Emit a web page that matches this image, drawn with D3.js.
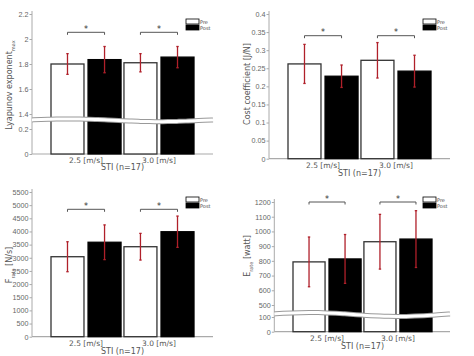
<!DOCTYPE html>
<html><head><meta charset="utf-8">
<script src="https://cdn.jsdelivr.net/npm/d3@7"></script>
<style>body{margin:0;background:#fff}svg{display:block;font-family:"DejaVu Sans",sans-serif}</style>
</head><body><svg id="c" width="474" height="356"></svg>
<script>
const categories = ["2.5 [m/s]", "3.0 [m/s]"];
const groups = ["Pre", "Post"];
const xTitle = "STI (n=17)";

const lyapPre = [1.80, 1.81], lyapPost = [1.835, 1.855];
const lyapPreSD = [0.083, 0.073], lyapPostSD = [0.105, 0.085];
const lyapTicks = [0, 0.2, 1.4, 1.6, 1.8, 2, 2.2];

const costPre = [0.262, 0.272], costPost = [0.228, 0.242];
const costPreSD = [0.054, 0.049], costPostSD = [0.031, 0.044];
const costTicks = [0, 0.05, 0.1, 0.15, 0.2, 0.25, 0.3, 0.35, 0.4];

const fPre = [3040, 3420], fPost = [3590, 3990];
const fPreSD = [570, 507], fPostSD = [660, 595];
const fTicks = [0, 500, 1000, 1500, 2000, 2500, 3000, 3500, 4000, 4500, 5000, 5500];

const ePre = [793, 930], ePost = [813, 948];
const ePreSD = [169, 186], ePostSD = [166, 193];
const eTicks = [0, 100, 500, 600, 700, 800, 900, 1000, 1100, 1200];

const svg = d3.select("#c");

function panel(o) {
  const g = svg.append("g");
  const y = d3.scaleLinear().domain(o.domain).range(o.range);
  const x0 = d3.scaleBand().domain(categories).range(o.barRange).paddingInner(0.04);
  const x1 = d3.scaleBand().domain(groups).range([0, x0.bandwidth()]).paddingInner(0.11);
  const base = y(0);
  // axes
  const ax = g.append("g").attr("transform", `translate(${o.axisX},0)`)
    .call(d3.axisLeft(y).tickValues(o.ticks).tickSize(2.5).tickPadding(1).tickFormat(d => String(d)));
  ax.select(".domain").attr("stroke", "#aaa").attr("d", `M0,${o.range[o.range.length-1]-3}V${base}`);
  ax.selectAll(".tick line").attr("stroke", "#aaa");
  ax.selectAll("text").attr("fill", "#666").style("font-size", "7.2px");
  g.append("line").attr("x1", o.axisX).attr("x2", o.axisEnd).attr("y1", base).attr("y2", base)
    .attr("stroke", "#aaa").attr("stroke-width", 1.2);
  // bars
  const rows = [];
  categories.forEach((c, i) => {
    rows.push({c, k: "Pre", v: o.pre[i], sd: o.preSD[i]});
    rows.push({c, k: "Post", v: o.post[i], sd: o.postSD[i]});
  });
  g.selectAll("rect.bar").data(rows).join("rect").attr("class", "bar")
    .attr("x", d => x0(d.c) + x1(d.k)).attr("width", x1.bandwidth())
    .attr("y", d => y(d.v)).attr("height", d => base - y(d.v))
    .attr("fill", d => d.k === "Pre" ? "#fff" : "#000")
    .attr("stroke", d => d.k === "Pre" ? "#333" : "#000").attr("stroke-width", 1.3);
  // break wave
  if (o.wave) {
    const pts = d3.range(0, 1.0001, 0.05).map(t => [o.axisX + t * (o.axisEnd - o.axisX), o.wave.y - o.wave.a * Math.sin(t * Math.PI * 2 * o.wave.f + o.wave.p)]);
    const line = d3.line().curve(d3.curveBasis);
    g.append("path").attr("d", line(pts)).attr("fill", "none").attr("stroke", "#999").attr("stroke-width", 5);
    g.append("path").attr("d", line(pts)).attr("fill", "none").attr("stroke", "#fff").attr("stroke-width", 3);
  }
  // error bars
  const ec = "#b0202a";
  rows.forEach(d => {
    const cx = x0(d.c) + x1(d.k) + x1.bandwidth() / 2;
    g.append("line").attr("x1", cx).attr("x2", cx).attr("y1", y(d.v + d.sd)).attr("y2", y(d.v - d.sd)).attr("stroke", ec).attr("stroke-width", 1.3);
    [d.v + d.sd, d.v - d.sd].forEach(v => g.append("line").attr("x1", cx - 1.2).attr("x2", cx + 1.2).attr("y1", y(v)).attr("y2", y(v)).attr("stroke", ec).attr("stroke-width", 1.3));
  });
  // significance brackets
  categories.forEach(c => {
    const a = x0(c) + x1("Pre") + x1.bandwidth() / 2, b = x0(c) + x1("Post") + x1.bandwidth() / 2;
    g.append("path").attr("d", `M${a},${o.brY + 2.5}V${o.brY}H${b}V${o.brY + 2.5}`).attr("fill", "none").attr("stroke", "#555").attr("stroke-width", 1);
    g.append("text").attr("x", (a + b) / 2).attr("y", o.brY - 0.5).attr("text-anchor", "middle").attr("fill", "#333").style("font-size", "8px").text("*");
  });
  // category labels
  categories.forEach(c => {
    g.append("text").attr("x", x0(c) + x0.bandwidth() / 2).attr("y", o.catY).attr("text-anchor", "middle").attr("fill", "#555").style("font-size", "7.5px").text(c);
  });
  g.append("text").attr("x", (o.barRange[0] + o.barRange[1]) / 2).attr("y", o.titleY).attr("text-anchor", "middle").attr("fill", "#555").style("font-size", "8px").text(xTitle);
  // y label
  const yl = g.append("text").attr("transform", `translate(${o.ylX},${o.ylY}) rotate(-90)`).attr("text-anchor", "middle").attr("fill", "#555").style("font-size", "8px");
  yl.append("tspan").text(o.ylabel[0]);
  if (o.ylabel[1]) yl.append("tspan").attr("dy", 2.5).style("font-size", "5px").text(o.ylabel[1]);
  if (o.ylabel[2]) yl.append("tspan").attr("dy", -2.5).text(o.ylabel[2]);
  // legend
  groups.forEach((k, i) => {
    g.append("rect").attr("x", o.legX).attr("y", o.legY + i * 6).attr("width", 13).attr("height", 5)
      .attr("fill", k === "Pre" ? "#fff" : "#000").attr("stroke", "#000").attr("stroke-width", 0.8);
    g.append("text").attr("x", o.legX + 14).attr("y", o.legY + i * 6 + 4.5).attr("fill", "#444").style("font-size", "5px").text(k);
  });
}

panel({domain: [0, 0.2, 1.4, 2.2], range: [154, 129, 114, 14], ticks: lyapTicks, axisX: 32, axisEnd: 213, barRange: [51, 194],
  pre: lyapPre, post: lyapPost, preSD: lyapPreSD, postSD: lyapPostSD, brY: 32.3, catY: 162.5, titleY: 170,
  ylabel: ["Lyapunov exponent", "max"], ylX: 12, ylY: 85, legX: 186, legY: 19,
  wave: {y: 120.3, a: 1.4, f: 1, p: 0.3}});
panel({domain: [0, 0.4], range: [158.7, 14], ticks: costTicks, axisX: 269, axisEnd: 450, barRange: [288, 431],
  pre: costPre, post: costPost, preSD: costPreSD, postSD: costPostSD, brY: 35.7, catY: 167.5, titleY: 175.5,
  ylabel: ["Cost coefficient [J/N]"], ylX: 250, ylY: 84, legX: 423, legY: 19});
panel({domain: [0, 5500], range: [336.7, 192], ticks: fTicks, axisX: 32, axisEnd: 213, barRange: [51, 194],
  pre: fPre, post: fPost, preSD: fPreSD, postSD: fPostSD, brY: 209.3, catY: 345.5, titleY: 353.5,
  ylabel: ["F", "rate", " [N/s]"], ylX: 12, ylY: 265, legX: 186, legY: 197});
panel({domain: [0, 100, 500, 1200], range: [331.7, 317, 305, 202], ticks: eTicks, axisX: 274.3, axisEnd: 450, barRange: [293, 432],
  pre: ePre, post: ePost, preSD: ePreSD, postSD: ePostSD, brY: 202, catY: 340.5, titleY: 349,
  ylabel: ["E", "rate", " [watt]"], ylX: 250, ylY: 256, legX: 423, legY: 197,
  wave: {y: 314.5, a: 2, f: 1, p: 0.3}});
</script></body></html>
